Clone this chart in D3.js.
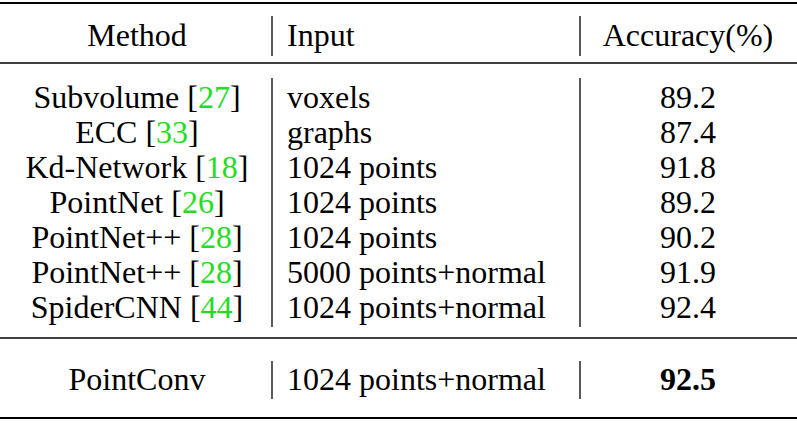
<!DOCTYPE html>
<html><head><meta charset="utf-8">
<script src="https://cdn.jsdelivr.net/npm/d3@7"></script>
<style>body{margin:0;background:#fff} text{font-family:"Liberation Serif","Times New Roman","DejaVu Serif",serif}</style>
</head><body>
<svg id="t" width="797" height="436"></svg>
<script>
'use strict';
var headers = ['Method','Input','Accuracy(%)'];
var methods = ['Subvolume','ECC','Kd-Network','PointNet','PointNet++','PointNet++','SpiderCNN'];
var refs = ['27','33','18','26','28','28','44'];
var inputs = ['voxels','graphs','1024 points','1024 points','1024 points','5000 points+normal','1024 points+normal'];
var accuracy = ['89.2','87.4','91.8','89.2','90.2','91.9','92.4'];
var ours = {method:'PointConv', input:'1024 points+normal', acc:'92.5'};

var svg = d3.select('#t');
var fs = 32;

//Row positions
var y = d3.scalePoint().domain(d3.range(methods.length)).range([97,307]);

var txt = function(x,yy,anchor){
	return svg.append('text').attr('x',x).attr('y',yy).attr('dy','0.35em')
		.attr('text-anchor',anchor).attr('font-size',fs).attr('fill','#000');
};
var hline = function(yy,w){
	svg.append('line').attr('x1',0).attr('x2',797).attr('y1',yy).attr('y2',yy)
		.attr('stroke','#000').attr('stroke-width',w);
};
var vline = function(x,y1,y2){
	svg.append('line').attr('x1',x).attr('x2',x).attr('y1',y1).attr('y2',y2)
		.attr('stroke','#000').attr('stroke-width',1.3);
};

hline(3,2); hline(63,1.5); hline(338,1.5); hline(418,2);

//Header
txt(137,35,'middle').text(headers[0]);
txt(287,35,'start').text(headers[1]);
txt(688,35,'middle').text(headers[2]);
[272,580].forEach(function(x){ vline(x,16,56); vline(x,78,327); vline(x,361,399); });

//Body rows
methods.forEach(function(m,i){
	var t = txt(137,y(i),'middle');
	t.append('tspan').text(m+' [');
	t.append('tspan').attr('fill','#22dd22').text(refs[i]);
	t.append('tspan').text(']');
	txt(287,y(i),'start').text(inputs[i]);
	txt(688,y(i),'middle').text(accuracy[i]);
});

//Our method
txt(137,379,'middle').text(ours.method);
txt(287,379,'start').text(ours.input);
txt(688,379,'middle').attr('font-weight','bold').text(ours.acc);
</script>
</body></html>
